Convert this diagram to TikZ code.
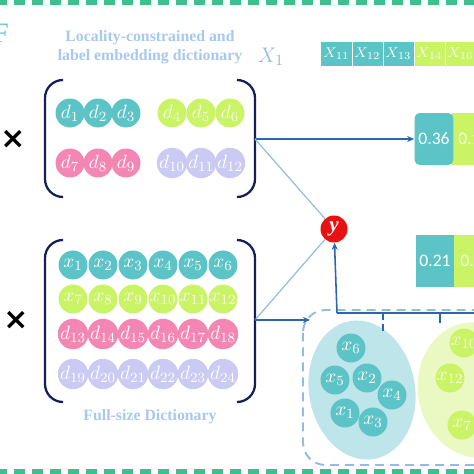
\documentclass[tikz,border=0pt]{standalone}
\usepackage{fontspec}
\setmainfont{Liberation Serif}
\newfontfamily\numfont{Carlito}
\newfontfamily\symfont{DejaVu Sans}
\usetikzlibrary{arrows.meta}

\definecolor{cteal}{RGB}{92,196,199}
\definecolor{clime}{RGB}{202,243,102}
\definecolor{cpink}{RGB}{244,134,180}
\definecolor{clilac}{RGB}{202,202,243}
\definecolor{cnavy}{RGB}{22,32,88}
\definecolor{ctitle}{RGB}{168,200,237}
\definecolor{clabel}{RGB}{150,184,232}
\definecolor{carrow}{RGB}{44,102,172}
\definecolor{cthin}{RGB}{146,188,230}
\definecolor{cframe}{RGB}{64,190,142}
\definecolor{cteallight}{RGB}{190,229,234}
\definecolor{climelight}{RGB}{234,248,194}
\definecolor{cred}{RGB}{232,16,16}

\begin{document}
\begin{tikzpicture}[x=0.02cm,y=-0.02cm,
    dot/.style={circle,minimum size=0.58cm,inner sep=0pt,text=white,font=\fontsize{11}{11}\selectfont},
    tealdot/.style={dot,fill=cteal},
    limedot/.style={dot,fill=clime,text=white!85!clime},
    pinkdot/.style={dot,fill=cpink},
    lilacdot/.style={dot,fill=clilac},
    bracket/.style={cnavy,line width=1.3pt,rounded corners=0.36cm},
    dicttitle/.style={ctitle,font=\fontsize{9}{10.8}\selectfont\bfseries,align=center},
    cell/.style={minimum width=0.62cm,minimum height=0.48cm,inner sep=0pt,text=white,font=\fontsize{8.5}{8.5}\selectfont},
    score/.style={minimum width=0.78cm,minimum height=1.04cm,inner sep=0pt,text=white,font=\numfont\fontsize{10}{10}\selectfont},
    link/.style={carrow,line width=0.9pt,-{Stealth[length=4pt,width=3.5pt]}},
    faint/.style={cthin,line width=0.7pt},
    framedash/.style={cframe,line width=0.11cm,dash pattern=on 0.22cm off 0.14cm}]
  \useasboundingbox (0,0) rectangle (474,474);
  \draw[framedash] (-4,2) -- (480,2);
  \draw[framedash] (-4,472) -- (480,472);
  \node[cteal,font=\fontsize{16}{16}\selectfont] (corner) at (1,33) {F};

  % titles
  \node[dicttitle] (toptitle) at (150,47) {Locality-constrained and\\label embedding dictionary};
  \node[dicttitle] (bottitle) at (150,417) {Full-size Dictionary};

  % multiplication marks
  \node[font=\symfont\bfseries\fontsize{17}{17}\selectfont] (times1) at (13,139) {×};
  \node[font=\symfont\bfseries\fontsize{17}{17}\selectfont] (times2) at (16,320) {×};

  % local dictionary
  \draw[bracket] (63,80) -- (45,80) -- (45,197) -- (63,197);
  \draw[bracket] (237,80) -- (255,80) -- (255,197) -- (237,197);
  \coordinate (topright) at (255,139);
  \node[tealdot]  (d1)  at (70,113)  {$d_1$};
  \node[tealdot]  (d2)  at (98,113)  {$d_2$};
  \node[tealdot]  (d3)  at (126,113) {$d_3$};
  \node[limedot]  (d4)  at (172,113) {$d_4$};
  \node[limedot]  (d5)  at (201,113) {$d_5$};
  \node[limedot]  (d6)  at (230,113) {$d_6$};
  \node[pinkdot]  (d7)  at (70,163)  {$d_7$};
  \node[pinkdot]  (d8)  at (98,163)  {$d_8$};
  \node[pinkdot]  (d9)  at (126,163) {$d_9$};
  \node[lilacdot] (d10) at (172,163) {$d_{10}$};
  \node[lilacdot] (d11) at (201,163) {$d_{11}$};
  \node[lilacdot] (d12) at (230,163) {$d_{12}$};

  % full dictionary
  \draw[bracket] (63,240) -- (45,240) -- (45,402) -- (63,402);
  \draw[bracket] (237,240) -- (255,240) -- (255,402) -- (237,402);
  \coordinate (botright) at (255,320);
  \node[tealdot]  (x1)  at (73,265)  {$x_1$};
  \node[tealdot]  (x2)  at (103,265) {$x_2$};
  \node[tealdot]  (x3)  at (133,265) {$x_3$};
  \node[tealdot]  (x4)  at (163,265) {$x_4$};
  \node[tealdot]  (x5)  at (193,265) {$x_5$};
  \node[tealdot]  (x6)  at (223,265) {$x_6$};
  \node[limedot]  (x7)  at (73,299)  {$x_7$};
  \node[limedot]  (x8)  at (103,299) {$x_8$};
  \node[limedot]  (x9)  at (133,299) {$x_9$};
  \node[limedot]  (x10) at (163,299) {$x_{10}$};
  \node[limedot]  (x11) at (193,299) {$x_{11}$};
  \node[limedot]  (x12) at (223,299) {$x_{12}$};
  \node[pinkdot]  (d13) at (73,334)  {$d_{13}$};
  \node[pinkdot]  (d14) at (103,334) {$d_{14}$};
  \node[pinkdot]  (d15) at (133,334) {$d_{15}$};
  \node[pinkdot]  (d16) at (163,334) {$d_{16}$};
  \node[pinkdot]  (d17) at (193,334) {$d_{17}$};
  \node[pinkdot]  (d18) at (223,334) {$d_{18}$};
  \node[lilacdot] (d19) at (73,374)  {$d_{19}$};
  \node[lilacdot] (d20) at (103,374) {$d_{20}$};
  \node[lilacdot] (d21) at (133,374) {$d_{21}$};
  \node[lilacdot] (d22) at (163,374) {$d_{22}$};
  \node[lilacdot] (d23) at (193,374) {$d_{23}$};
  \node[lilacdot] (d24) at (223,374) {$d_{24}$};

  % sample row
  \node[clabel,font=\fontsize{13}{13}\selectfont] (X1) at (271,57) {$X_1$};
  \node[cell,fill=cteal] (X11) at (336.5,54) {$X_{11}$};
  \node[cell,fill=cteal] (X12) at (367.5,54) {$X_{12}$};
  \node[cell,fill=cteal] (X13) at (398.5,54) {$X_{13}$};
  \node[cell,fill=clime,text=white!85!clime] (X14) at (429.5,54) {$X_{14}$};
  \node[cell,fill=clime,text=white!85!clime] (X16) at (460.5,54) {$X_{16}$};
  \draw[white,line width=0.4pt] (352,42) -- (352,66) (383,42) -- (383,66) (414,42) -- (414,66) (445,42) -- (445,66);

  % scores
  \fill[clime] (452,113) rectangle (490,165);
  \node[score,fill=cteal,rounded corners=3pt] (s36) at (434,139) {0.36};
  \node[score,anchor=west,minimum width=0pt,text=white!85!clime] (s1) at (458,139) {0.1};
  \fill[clime] (454,235) rectangle (490,287);
  \node[score,fill=cteal] (s21) at (435,261) {0.21};
  \node[score,anchor=west,minimum width=0pt,text=white!85!clime] (s4) at (460,261) {0.4};

  % clusters
  \draw[cthin,line width=1.1pt,dash pattern=on 0.18cm off 0.12cm,rounded corners=0.45cm] (303,310) rectangle (540,465);
  \fill[cteallight,rotate around={10:(362,390)}] (362,390) ellipse [x radius=53,y radius=70];
  \fill[climelight,rotate around={10:(476,390)}] (476,390) ellipse [x radius=58,y radius=68];
  \node[tealdot] (c6) at (351,348) {$x_6$};
  \node[tealdot] (c5) at (335,380) {$x_5$};
  \node[tealdot] (c2) at (367,378) {$x_2$};
  \node[tealdot] (c4) at (392,395) {$x_4$};
  \node[tealdot] (c1) at (345,413) {$x_1$};
  \node[tealdot] (c3) at (373,422) {$x_3$};
  \node[limedot] (c10) at (464,343) {$x_{10}$};
  \node[limedot] (c12) at (450,378) {$x_{12}$};
  \node[limedot] (c7)  at (462,425) {$x_7$};

  % label node
  \node[circle,fill=cred,minimum size=0.54cm,inner sep=0pt,text=white,font=\fontsize{12}{12}\selectfont\bfseries\itshape] (y) at (334,229) {y};

  % connectors
  \coordinate (split) at (337,313);
  \coordinate (far) at (480,313);
  \coordinate (tick1) at (383,332);
  \coordinate (tick2) at (440,323);
  \coordinate (into) at (310,320);
  \draw[link] (topright) -- (s36.west);
  \draw[faint] (topright) -- (y);
  \draw[faint] (botright) -- (y);
  \draw[link] (botright) -- (into);
  \draw[link] (split) -- (y);
  \draw[carrow,line width=0.9pt] (split) -- (far);
  \draw[carrow,line width=0.9pt,dash pattern=on 4pt off 2pt] (split -| tick1) -- (tick1);
  \draw[carrow,line width=0.9pt] (split -| tick2) -- (tick2);
\end{tikzpicture}
\end{document}
